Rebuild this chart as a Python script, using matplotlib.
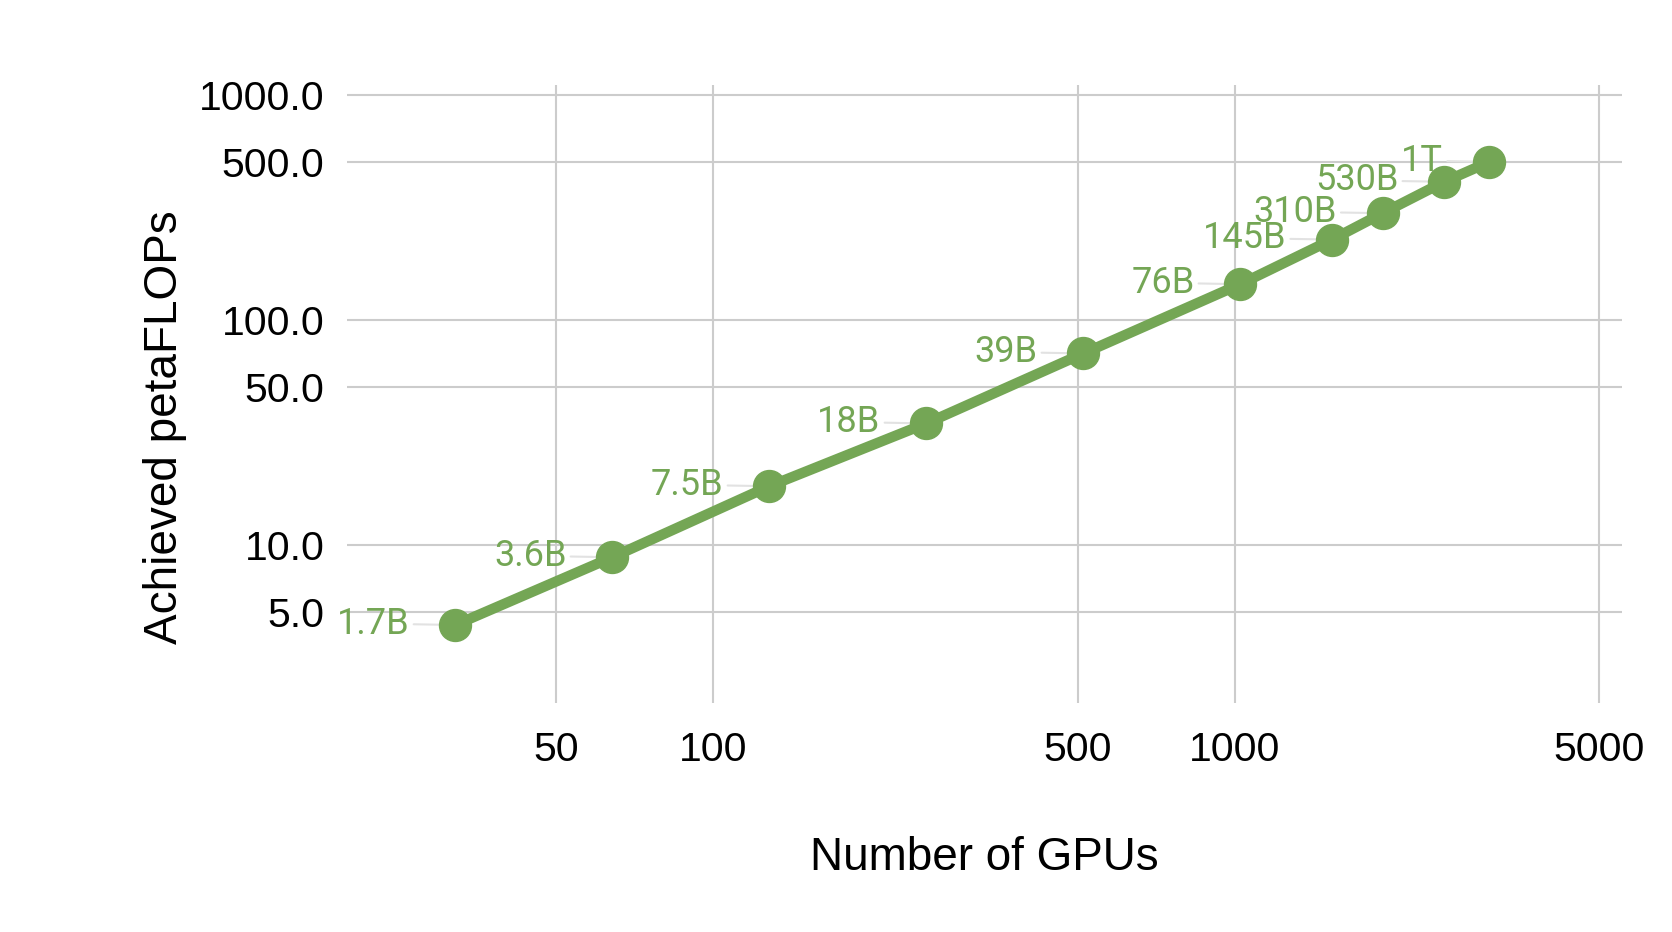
import matplotlib
matplotlib.use('Agg')
import matplotlib.pyplot as plt
from matplotlib.ticker import FixedLocator, NullLocator, FixedFormatter

# data (Megatron-style scaling)
gpus = [32, 64, 128, 256, 512, 1024, 1536, 1920, 2520, 3072]
petaflops = [4.4, 8.8, 18.2, 34.6, 70.8, 143.8, 227.1, 297.4, 410.2, 502.0]
model_sizes = ['1.7B', '3.6B', '7.5B', '18B', '39B', '76B', '145B', '310B', '530B', '1T']

x_ticks = [50, 100, 500, 1000, 5000]
x_tick_labels = ['50', '100', '500', '1000', '5000']
y_ticks = [5, 10, 50, 100, 500, 1000]
y_tick_labels = ['5.0', '10.0', '50.0', '100.0', '500.0', '1000.0']

GREEN = '#74a655'
GRID = '#cccccc'
TICK_FONT = 'Liberation Sans'

fig = plt.figure(figsize=(16.72, 9.32), dpi=100)
ax = fig.add_axes([0.2073, 0.2457, 0.970 - 0.2073, 0.9088 - 0.2457])

ax.plot(gpus, petaflops, color=GREEN, linewidth=7.5, marker='o',
        markersize=23, zorder=3, solid_capstyle='round')

# labels sit to the left of each point with a faint leader line
for g, p, name in zip(gpus, petaflops, model_sizes):
    ax.annotate(name, xy=(g, p), xytext=(-33, 1), textcoords='offset points',
                ha='right', va='center', fontsize=26, family='Roboto',
                color=GREEN, zorder=2,
                arrowprops=dict(arrowstyle='-', color='#e2e2e2', lw=1.5,
                                shrinkA=1, shrinkB=0))

ax.set_xscale('log')
ax.set_yscale('log')
ax.set_xlim(19.8, 5521)
ax.set_ylim(1.98, 1104)

ax.xaxis.set_major_locator(FixedLocator(x_ticks))
ax.xaxis.set_major_formatter(FixedFormatter(x_tick_labels))
ax.xaxis.set_minor_locator(NullLocator())
ax.yaxis.set_major_locator(FixedLocator(y_ticks))
ax.yaxis.set_major_formatter(FixedFormatter(y_tick_labels))
ax.yaxis.set_minor_locator(NullLocator())

ax.grid(True, which='major', color=GRID, linewidth=1.5, zorder=0)
ax.set_axisbelow(True)
for s in ax.spines.values():
    s.set_visible(False)

ax.tick_params(axis='both', length=0, labelsize=29.5)
ax.tick_params(axis='y', pad=16)
ax.tick_params(axis='x', pad=20)
for lab in ax.get_xticklabels() + ax.get_yticklabels():
    lab.set_family(TICK_FONT)

fig.text(984 / 1672, 1 - 858 / 932, 'Number of GPUs', ha='center', va='center',
         fontsize=33, family=TICK_FONT)
fig.text(165 / 1672, 1 - 427 / 932, 'Achieved petaFLOPs', ha='center', va='center',
         rotation=90, fontsize=33, family=TICK_FONT)

fig.savefig('out.png', dpi=100)
